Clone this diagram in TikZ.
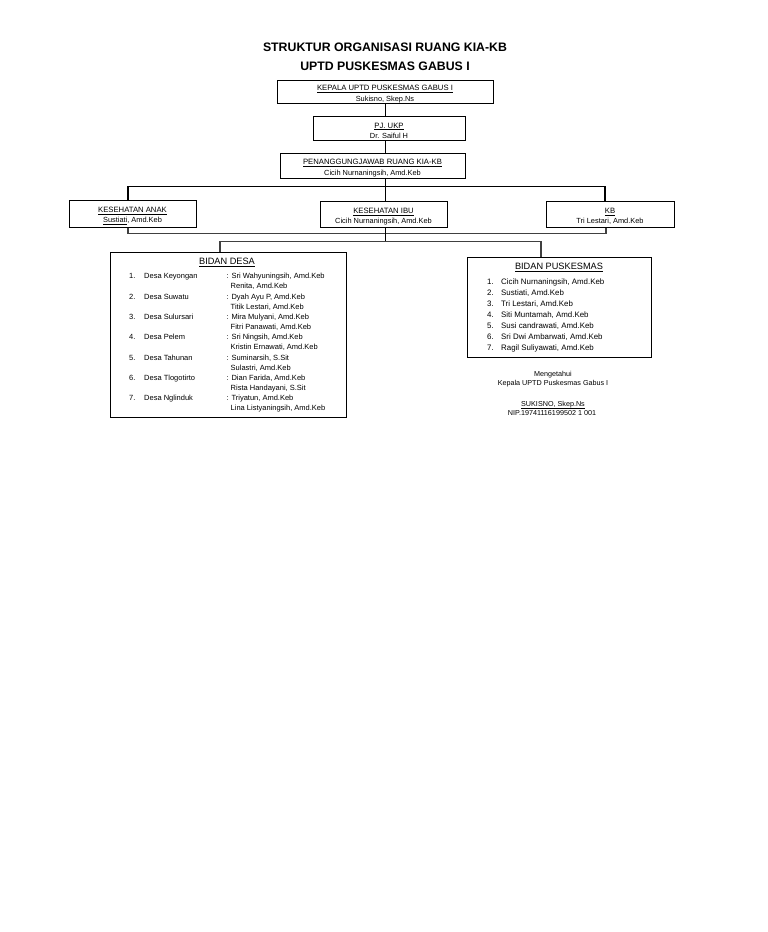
\documentclass[tikz,border=0pt]{standalone}
\usepackage{fontspec}
\setmainfont{Liberation Sans}
\usetikzlibrary{shadows}
\newcommand{\hdl}[1]{{\fontsize{7.7}{9}\selectfont\rule{0pt}{10.5pt}\underline{#1}}}
\begin{document}
\begin{tikzpicture}[x=1pt,y=-1pt,
  obox/.style={draw,line width=1pt,fill=white,inner sep=0pt,align=center,
    drop shadow={shadow xshift=1.1pt,shadow yshift=-1.1pt,fill=black,opacity=1},
    font=\fontsize{7.4}{10.4}\selectfont},
  lbox/.style={draw,line width=1pt,fill=white,inner sep=0pt,
    drop shadow={shadow xshift=1.1pt,shadow yshift=-1.1pt,fill=black,opacity=1}},
  conn/.style={line width=0.9pt},
  gconn/.style={line width=1.2pt,draw=black!75},
  lt/.style={anchor=base west,inner sep=0pt,font=\fontsize{7.5}{9}\selectfont},
  pt/.style={anchor=base west,inner sep=0pt,font=\fontsize{7.9}{9}\selectfont},
  ttl/.style={anchor=base,inner sep=0pt,font=\fontsize{12.3}{14}\selectfont\bfseries},
  nt/.style={anchor=base,inner sep=0pt,font=\fontsize{7.2}{9}\selectfont}]
\useasboundingbox (0,0) rectangle (768,932);

% title
\node[ttl] (t1) at (385,51.4) {STRUKTUR ORGANISASI RUANG KIA-KB};
\node[ttl] (t2) at (385,70.4) {UPTD PUSKESMAS GABUS I};

% top boxes
\node[obox,minimum width=216,minimum height=23] (kep) at (385,91.5)
  {\hdl{KEPALA UPTD PUSKESMAS GABUS I}\\Sukisno, Skep.Ns};
\node[obox,minimum width=152,minimum height=24] (pj) at (389,128)
  {\hdl{PJ. UKP}\\Dr. Saiful H};
\node[obox,minimum width=185,minimum height=25] (pen) at (372.5,165.5)
  {\hdl{PENANGGUNGJAWAB RUANG KIA-KB}\\Cicih Nurnaningsih, Amd.Keb};

% middle boxes
\node[obox,minimum width=127,minimum height=27] (anak) at (132.5,213.5)
  {\hdl{KESEHATAN ANAK}\\\underline{Sustiati}, Amd.Keb};
\node[obox,minimum width=127,minimum height=26] (ibu) at (383.5,214)
  {\hdl{KESEHATAN IBU}\\Cicih Nurnaningsih, Amd.Keb};
\node[obox,minimum width=128,minimum height=26] (kb) at (610,214)
  {\hdl{KB}\\Tri Lestari, Amd.Keb};

% list boxes
\node[lbox,minimum width=236,minimum height=165] (desa) at (228,334.5) {};
\node[lbox,minimum width=184,minimum height=100] (pus) at (559,307) {};

% connectors
\draw[conn] (kep.south) -- (pj.north -| kep.south);
\draw[conn] (pj.south -| kep.south) -- (pen.north -| kep.south);
\draw[conn] (pen.south -| kep.south) -- (ibu.north -| kep.south);
\draw[line width=1.2pt] ([xshift=-4.5pt]anak.north) -- ++(0,-13) -| ([xshift=-5pt]kb.north);
\draw[gconn] ([xshift=-4.5pt]anak.south) -- ++(0,6) -| ([xshift=-4pt]kb.south);
\draw[conn] (ibu.south -| kep.south) -- ++(0,14) coordinate (j);
\draw[gconn] ([xshift=-8pt]desa.north) |- (j) -| ([xshift=-18pt]pus.north);

% BIDAN DESA contents
\node[anchor=base,inner sep=0pt,font=\fontsize{9.2}{11}\selectfont] (dt) at (227,264.3) {\underline{BIDAN DESA}};
\foreach \i/\d/\a/\b in {
  1/Desa Keyongan/{Sri Wahyuningsih, Amd.Keb}/{Renita, Amd.Keb},
  2/Desa Suwatu/{Dyah Ayu P, Amd.Keb}/{Titik Lestari, Amd.Keb},
  3/Desa Sulursari/{Mira Mulyani, Amd.Keb}/{Fitri Panawati, Amd.Keb},
  4/Desa Pelem/{Sri Ningsih, Amd.Keb}/{Kristin Ernawati, Amd.Keb},
  5/Desa Tahunan/{Suminarsih, S.Sit}/{Sulastri, Amd.Keb},
  6/Desa Tlogotirto/{Dian Farida, Amd.Keb}/{Rista Handayani, S.Sit},
  7/Desa Nglinduk/{Triyatun, Amd.Keb}/{Lina Listyaningsih, Amd.Keb}}{
  \pgfmathsetmacro{\yy}{278.7+(\i-1)*20.33}
  \node[lt] (dn\i) at (129,\yy) {\i.};
  \node[lt] (dd\i) at (144,\yy) {\d};
  \node[lt] (da\i) at (226.5,\yy) {: \a};
  \node[lt] (db\i) at (230.5,\yy+10.2) {\b};
}

% BIDAN PUSKESMAS contents
\node[anchor=base,inner sep=0pt,font=\fontsize{9.2}{11}\selectfont] (pt0) at (559,269.3) {\underline{BIDAN PUSKESMAS}};
\foreach \i/\n in {1/Cicih Nurnaningsih, 2/Sustiati, 3/Tri Lestari, 4/Siti Muntamah,
  5/Susi candrawati, 6/Sri Dwi Ambarwati, 7/Ragil Suliyawati}{
  \pgfmathsetmacro{\yy}{284.9+(\i-1)*11}
  \node[pt] (pn\i) at (487,\yy) {\i.};
  \node[pt] (pm\i) at (501,\yy) {\n, Amd.Keb};
}

% signature
\node[nt] (m1) at (553,376.6) {Mengetahui};
\node[nt] (m2) at (553,385.8) {Kepala UPTD Puskesmas Gabus I};
\node[nt] (m3) at (553,406.6) {\underline{\smash{SUKISNO, Skep.Ns}}};
\node[nt] (m4) at (552,415.8) {NIP.19741116199502 1 001};
\end{tikzpicture}
\end{document}
